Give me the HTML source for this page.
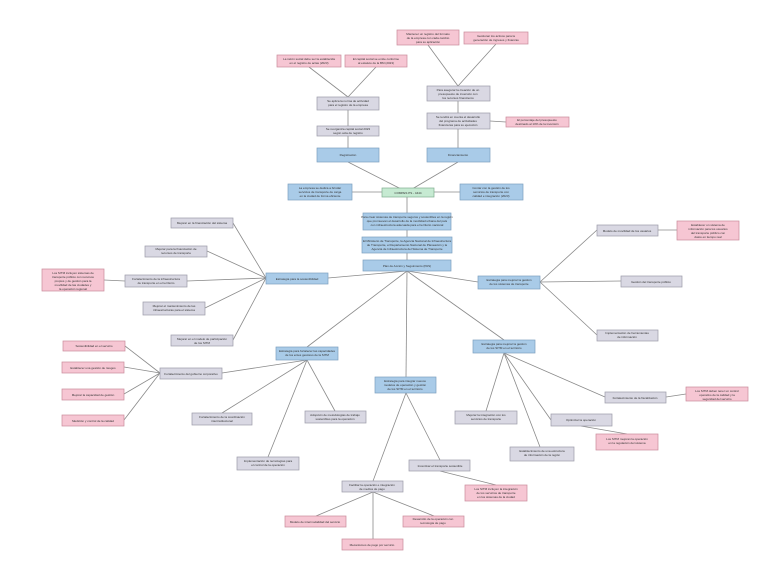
<!DOCTYPE html>
<html><head><meta charset="utf-8"><style>
body{margin:0;background:#fff}
svg{display:block}
.p{fill:#f6c6d3;stroke:#c98a9a;stroke-width:.7}
.g{fill:#d9d8e3;stroke:#9a9aa8;stroke-width:.7}
.b{fill:#a9cbe8;stroke:#7d9fbf;stroke-width:.7}
.c{fill:#c6ead2;stroke:#7fae8f;stroke-width:.7}
line{stroke:#8a8a8a;stroke-width:.8}
text{font-family:"Liberation Sans",sans-serif;font-size:3px;fill:#333;text-anchor:middle}
</style></head><body>
<svg width="768" height="587" viewBox="0 0 768 587">
<g>
<line x1="407" y1="192" x2="348" y2="162"/><line x1="407" y1="192" x2="458" y2="162"/>
<line x1="382" y1="192" x2="352" y2="192"/><line x1="434" y1="192" x2="460" y2="192"/>
<line x1="407" y1="197" x2="407" y2="260"/>
<line x1="348" y1="148" x2="348" y2="136"/><line x1="348" y1="126" x2="348" y2="110"/>
<line x1="348" y1="97" x2="309" y2="67"/><line x1="348" y1="97" x2="376" y2="67"/>
<line x1="458" y1="148" x2="458" y2="129"/><line x1="458" y1="113" x2="458" y2="101"/>
<line x1="490" y1="121" x2="506" y2="122"/>
<line x1="458" y1="86" x2="428" y2="45"/><line x1="458" y1="86" x2="496" y2="44"/>
<line x1="407" y1="271" x2="328" y2="278"/><line x1="407" y1="271" x2="478" y2="282"/>
<line x1="407" y1="271" x2="307" y2="347"/><line x1="407" y1="271" x2="406" y2="377"/>
<line x1="407" y1="271" x2="504" y2="340"/>
<line x1="266" y1="278" x2="233" y2="223"/><line x1="266" y1="278" x2="207" y2="251"/>
<line x1="266" y1="278" x2="187" y2="281"/><line x1="266" y1="278" x2="205" y2="308"/>
<line x1="266" y1="278" x2="233" y2="340"/>
<line x1="125" y1="281" x2="104" y2="280"/>
<line x1="307" y1="360" x2="222" y2="373"/><line x1="307" y1="360" x2="222" y2="413"/>
<line x1="307" y1="360" x2="268" y2="457"/><line x1="307" y1="360" x2="335" y2="411"/>
<line x1="160" y1="373" x2="125" y2="346"/><line x1="160" y1="373" x2="124" y2="367"/>
<line x1="160" y1="373" x2="124" y2="394"/><line x1="160" y1="373" x2="124" y2="420"/>
<line x1="406" y1="393" x2="373" y2="481"/><line x1="406" y1="393" x2="440" y2="460"/>
<line x1="373" y1="492" x2="316" y2="516"/><line x1="373" y1="492" x2="373" y2="539"/>
<line x1="373" y1="492" x2="434" y2="516"/><line x1="440" y1="471" x2="496" y2="485"/>
<line x1="540" y1="282" x2="597" y2="230"/><line x1="540" y1="282" x2="621" y2="281"/>
<line x1="540" y1="282" x2="597" y2="335"/><line x1="658" y1="230" x2="677" y2="230"/>
<line x1="504" y1="353" x2="486" y2="411"/><line x1="504" y1="353" x2="551" y2="420"/>
<line x1="504" y1="353" x2="605" y2="397"/><line x1="504" y1="353" x2="540" y2="447"/>
<line x1="666" y1="397" x2="686" y2="394"/><line x1="581" y1="426" x2="627" y2="434"/>
</g>
<rect class="p" x="277" y="55" width="64" height="12"/><text x="309" y="60">La razón social debe ser la establecida</text><text x="309" y="64">en el registro de actas (2023)</text>
<rect class="p" x="345" y="55" width="62" height="12"/><text x="376" y="60">El capital social se emite conforme</text><text x="376" y="64">al estatuto de la BM (2023)</text>
<rect class="p" x="397" y="30" width="62" height="15"/><text x="428" y="35">Mantener un registro del formato</text><text x="428" y="39">de la empresa con cada cambio</text><text x="428" y="43">para su aplicación</text>
<rect class="p" x="464" y="32" width="64" height="12"/><text x="496" y="37">Gestionar los activos para la</text><text x="496" y="41">generación de ingresos y finanzas</text>
<rect class="g" x="317" y="97" width="62" height="13"/><text x="348" y="102">Se aplica la norma de actividad</text><text x="348" y="106">para el registro de la empresa</text>
<rect class="g" x="317" y="126" width="62" height="10"/><text x="348" y="130">Se reorganiza capital social 2023</text><text x="348" y="134">según acta de registro</text>
<rect class="b" x="317" y="148" width="62" height="14"/><text x="348" y="156">Registración</text>
<rect class="g" x="427" y="86" width="63" height="15"/><text x="458" y="91">Para asegurar la creación de un</text><text x="458" y="95">presupuesto de inversión con</text><text x="458" y="99">los recursos financieros</text>
<rect class="g" x="427" y="113" width="63" height="16"/><text x="458" y="118">Se tendrá en cuenta el desarrollo</text><text x="458" y="122">del programa de actividades</text><text x="458" y="126">financieras para su ejecución</text>
<rect class="p" x="506" y="117" width="63" height="10"/><text x="537" y="121">El porcentaje del presupuesto</text><text x="537" y="125">destinado al 10% de la inversión</text>
<rect class="b" x="427" y="148" width="63" height="14"/><text x="458" y="156">Financiamiento</text>
<rect class="b" x="288" y="184" width="64" height="16"/><text x="320" y="189">La empresa se dedica a brindar</text><text x="320" y="193">servicios de transporte de carga</text><text x="320" y="197">en la ciudad de forma eficiente</text>
<rect class="c" x="382" y="188" width="52" height="9"/><text x="408" y="194">COMPES PS - 4444</text>
<rect class="b" x="460" y="184" width="63" height="16"/><text x="491" y="189">Contar con la gestión de los</text><text x="491" y="193">servicios de transporte con</text><text x="491" y="197">calidad e integración (2023)</text>
<rect class="b" x="363" y="213" width="88" height="17"/><text x="407" y="218">Para crear sistemas de transporte seguros y sostenibles en la región</text><text x="407" y="222">que promuevan el desarrollo de la movilidad urbana del país</text><text x="407" y="226">con infraestructura adecuada para el territorio nacional</text>
<rect class="b" x="362" y="237" width="90" height="16"/><text x="407" y="242">El Ministerio de Transporte, la Agencia Nacional de Infraestructura</text><text x="407" y="246">de Transporte, el Departamento Nacional de Planeación y la</text><text x="407" y="250">Agencia de Infraestructura del Sistema de Transporte</text>
<rect class="b" x="363" y="260" width="88" height="11"/><text x="407" y="267">Plan de Acción y Seguimiento (PAS)</text>
<rect class="g" x="171" y="218" width="62" height="10"/><text x="202" y="224">Mejorar en la financiación del sistema</text>
<rect class="g" x="145" y="246" width="62" height="11"/><text x="176" y="250">Mejorar para la financiación de</text><text x="176" y="254">recursos de transporte</text>
<rect class="g" x="125" y="275" width="62" height="12"/><text x="156" y="280">Fortalecimiento de la infraestructura</text><text x="156" y="284">de transporte en el territorio</text>
<rect class="p" x="42" y="269" width="62" height="22"/><text x="73" y="274">Los SITM incluyen sistemas de</text><text x="73" y="278">transporte público con recursos</text><text x="73" y="282">propios y de gestión para la</text><text x="73" y="286">movilidad de las ciudades y</text><text x="73" y="290">la operación regional</text>
<rect class="g" x="143" y="302" width="62" height="13"/><text x="174" y="307">Mejorar el mantenimiento de las</text><text x="174" y="311">infraestructuras para el sistema</text>
<rect class="g" x="171" y="335" width="62" height="11"/><text x="202" y="340">Mejorar en el modelo de participación</text><text x="202" y="344">de los SITM</text>
<rect class="b" x="266" y="273" width="62" height="11"/><text x="297" y="280">Estrategia para la sostenibilidad</text>
<rect class="p" x="63" y="341" width="62" height="10"/><text x="94" y="347">Sostenibilidad en el servicio</text>
<rect class="p" x="62" y="362" width="62" height="11"/><text x="93" y="369">Establecer una gestión de riesgos</text>
<rect class="p" x="62" y="389" width="62" height="11"/><text x="93" y="396">Mejorar la capacidad de gestión</text>
<rect class="p" x="62" y="415" width="62" height="11"/><text x="93" y="422">Medición y control de la calidad</text>
<rect class="g" x="160" y="368" width="62" height="11"/><text x="191" y="375">Fortalecimiento del gobierno corporativo</text>
<rect class="b" x="276" y="347" width="62" height="13"/><text x="307" y="352">Estrategia para fortalecer las capacidades</text><text x="307" y="356">de los entes gestores de la SITM</text>
<rect class="g" x="192" y="413" width="60" height="12"/><text x="222" y="418">Fortalecimiento de la coordinación</text><text x="222" y="422">interinstitucional</text>
<rect class="g" x="237" y="457" width="62" height="13"/><text x="268" y="462">Implementación de tecnologías para</text><text x="268" y="466">el control de la operación</text>
<rect class="g" x="305" y="411" width="61" height="12"/><text x="335" y="416">Adopción de metodologías de trabajo</text><text x="335" y="420">sostenibles para la operación</text>
<rect class="b" x="375" y="377" width="61" height="16"/><text x="405" y="382">Estrategia para integrar nuevos</text><text x="405" y="386">modelos de operación y gestión</text><text x="405" y="390">de los SITM en el territorio</text>
<rect class="g" x="342" y="481" width="61" height="11"/><text x="372" y="486">Facilitar la operación e integración</text><text x="372" y="490">de medios de pago</text>
<rect class="g" x="409" y="460" width="61" height="11"/><text x="440" y="467">Incentivar el transporte sostenible</text>
<rect class="p" x="465" y="485" width="62" height="16"/><text x="496" y="490">Los SITM incluyen la integración</text><text x="496" y="494">de los servicios de transporte</text><text x="496" y="498">en los sistemas de la ciudad</text>
<rect class="p" x="285" y="516" width="61" height="11"/><text x="315" y="523">Modelo de intermodalidad del servicio</text>
<rect class="p" x="403" y="516" width="61" height="11"/><text x="433" y="520">Desarrollo de la operación con</text><text x="433" y="524">tecnología de pago</text>
<rect class="p" x="342" y="539" width="61" height="11"/><text x="372" y="546">Mecanismos de pago por servicio</text>
<rect class="g" x="597" y="225" width="61" height="11"/><text x="627" y="232">Modelo de movilidad de los usuarios</text>
<rect class="p" x="677" y="221" width="62" height="19"/><text x="708" y="226">Establecer un sistema de</text><text x="708" y="230">información para los usuarios</text><text x="708" y="234">del transporte público con</text><text x="708" y="238">datos en tiempo real</text>
<rect class="b" x="478" y="276" width="62" height="13"/><text x="509" y="281">Estrategia para mejorar la gestión</text><text x="509" y="285">de los sistemas de transporte</text>
<rect class="g" x="621" y="276" width="61" height="11"/><text x="651" y="283">Gestión del transporte público</text>
<rect class="g" x="597" y="330" width="61" height="11"/><text x="627" y="334">Implementación de herramientas</text><text x="627" y="338">de información</text>
<rect class="b" x="473" y="340" width="62" height="13"/><text x="504" y="345">Estrategia para mejorar la gestión</text><text x="504" y="349">de los SITM en el territorio</text>
<rect class="g" x="605" y="392" width="61" height="11"/><text x="635" y="399">Fortalecimiento de la fiscalización</text>
<rect class="p" x="686" y="387" width="62" height="14"/><text x="717" y="392">Los SITM deben tener un control</text><text x="717" y="396">operativo de la calidad y la</text><text x="717" y="400">seguridad del servicio</text>
<rect class="g" x="455" y="411" width="62" height="13"/><text x="486" y="416">Mejorar la integración con los</text><text x="486" y="420">servicios de transporte</text>
<rect class="g" x="551" y="414" width="61" height="12"/><text x="581" y="421">Optimizar la operación</text>
<rect class="p" x="596" y="434" width="62" height="16"/><text x="627" y="440">Los SITM mejoran la operación</text><text x="627" y="444">en la regulación del sistema</text>
<rect class="g" x="510" y="447" width="64" height="14"/><text x="542" y="452">Establecimiento de una estructura</text><text x="542" y="456">de información de la región</text>
</svg>
</body></html>
